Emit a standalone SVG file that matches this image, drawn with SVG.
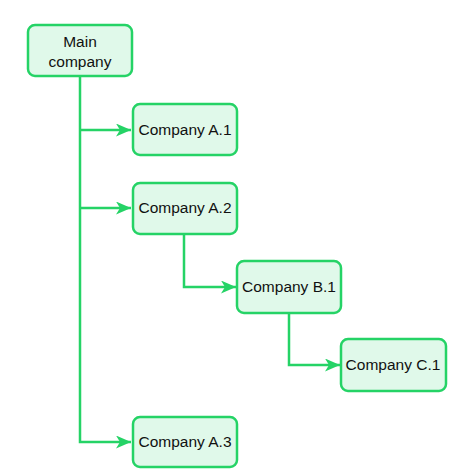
<svg xmlns="http://www.w3.org/2000/svg" width="474" height="470" viewBox="0 0 474 470">
<style>
.box{fill:#e0f9ea;stroke:#25d366;stroke-width:2.5}
.t{font-family:"Liberation Sans",Arial,sans-serif;font-size:15.5px;fill:#111;text-anchor:middle}
.c{fill:none;stroke:#25d366;stroke-width:2.5}
</style>
<defs>
<marker id="ah" markerWidth="15" markerHeight="13" refX="15" refY="6.5" orient="auto" markerUnits="userSpaceOnUse">
<path d="M0,0 L15,6.5 L0,13 L4,6.5 Z" fill="#25d366"/>
</marker>
</defs>
<rect width="474" height="470" fill="#fff"/>
<g id="connectors">
<path class="c" d="M80,77 V442 H131" marker-end="url(#ah)"/>
<path class="c" d="M80,130 H131" marker-end="url(#ah)"/>
<path class="c" d="M80,208 H131" marker-end="url(#ah)"/>
<path class="c" d="M184,234 V287 H236" marker-end="url(#ah)"/>
<path class="c" d="M289,313 V365 H340" marker-end="url(#ah)"/>
</g>
<g id="main">
<rect class="box" x="28" y="25" width="104" height="51" rx="7"/>
<text class="t" x="80" y="47">Main</text>
<text class="t" x="80" y="67">company</text>
</g>
<g id="a1">
<rect class="box" x="133" y="104" width="104" height="51" rx="7"/>
<text class="t" x="185" y="135">Company A.1</text>
</g>
<g id="a2">
<rect class="box" x="133" y="183" width="104" height="51" rx="7"/>
<text class="t" x="185" y="213">Company A.2</text>
</g>
<g id="b1">
<rect class="box" x="237" y="261" width="104" height="52" rx="7"/>
<text class="t" x="289" y="292">Company B.1</text>
</g>
<g id="c1">
<rect class="box" x="341" y="339" width="105" height="52" rx="7"/>
<text class="t" x="393" y="370">Company C.1</text>
</g>
<g id="a3">
<rect class="box" x="133" y="417" width="104" height="50" rx="7"/>
<text class="t" x="185" y="447">Company A.3</text>
</g>
</svg>
